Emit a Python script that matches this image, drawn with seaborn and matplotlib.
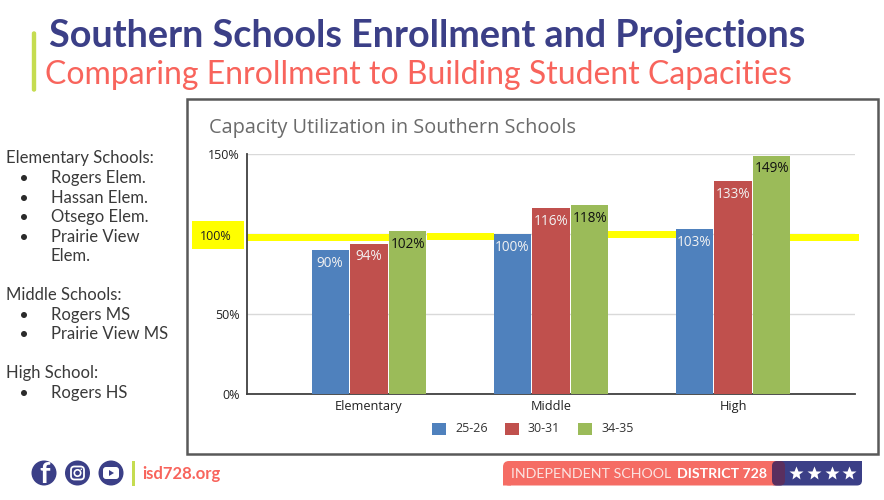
import matplotlib
matplotlib.use("Agg")
import matplotlib.pyplot as plt
from matplotlib.patches import Rectangle, FancyBboxPatch, Circle, Polygon
import pandas as pd
import seaborn as sns

school_levels = ["Elementary", "Middle", "High"]
years = ["25-26", "30-31", "34-35"]
util_2526 = [90, 100, 103]
util_3031 = [94, 116, 133]
util_3435 = [102, 118, 149]
year_colors = ["#4F81BD", "#C0504D", "#9BBB59"]
label_colors = ["#F2F2F2", "#F2F2F2", "#111111"]
y_ticks = [0, 50, 100, 150]
y_tick_labels = ["0%", "50%", "", "150%"]

school_list = [
    (158, "Elementary Schools:", False),
    (178, "Rogers Elem.", True),
    (198, "Hassan Elem.", True),
    (217, "Otsego Elem.", True),
    (237, "Prairie View", True),
    (256, "Elem.", None),
    (295, "Middle Schools:", False),
    (315, "Rogers MS", True),
    (334, "Prairie View MS", True),
    (373, "High School:", False),
    (393, "Rogers HS", True),
]

NAVY = "#3B3F87"
CORAL = "#F8645C"
LIME = "#C5DC50"
W, H = 884, 500

table = pd.DataFrame({
    "level": school_levels * 3,
    "year": [y for y in years for _ in school_levels],
    "util": util_2526 + util_3031 + util_3435,
})

sns.set_theme(style="white")
plt.rcParams["font.family"] = ["Open Sans", "DejaVu Sans"]

fig = plt.figure(figsize=(W / 100, H / 100), dpi=100, facecolor="white")

# Slide layer in pixel coordinates, behind the chart axes
page = fig.add_axes([0, 0, 1, 1], zorder=0)
page.set_xlim(0, W)
page.set_ylim(H, 0)
page.axis("off")

# Heading
page.add_patch(FancyBboxPatch((32.5, 32), 3, 59, boxstyle="round,pad=0,rounding_size=1.5",
                              fc=LIME, ec=LIME, lw=1))
page.text(49, 36, "Southern Schools Enrollment and Projections", family="Lato", weight="bold",
          fontsize=27.2, color=NAVY, va="center", ha="left")
page.text(45, 75, "Comparing Enrollment to Building Student Capacities", family="Lato",
          fontsize=23, color=CORAL, va="center", ha="left")

# School list on the left
for y, name, bullet in school_list:
    x = 6 if bullet is False else 51
    page.text(x, y, name, family="Lato", fontsize=12, color="#3A3A3A", va="center", ha="left")
    if bullet:
        page.add_patch(Circle((24, y), 3, fc="#2B2B2B", ec="none"))

# Chart frame
page.add_patch(Rectangle((187, 99), 691, 355, fc="white", ec="#595959", lw=1.8))
page.text(209, 127.5, "Capacity Utilization in Southern Schools", fontsize=14.3, color="#6B6B6B",
          va="center", ha="left")

# Chart axes
ax = fig.add_axes([247 / W, 1 - 394 / H, (855 - 247) / W, (394 - 154) / H], zorder=2)
ax.patch.set_alpha(0)
ax.set_axisbelow(True)
sns.barplot(data=table, x="level", y="util", hue="year", hue_order=years, order=school_levels,
            palette=year_colors, width=0.64, gap=0.045, saturation=1, linewidth=0, ax=ax, zorder=3)
ax.set_xlim(-0.67, 2.67)
ax.set_ylim(0, 150)
ax.set_yticks(y_ticks)
ax.set_yticklabels(y_tick_labels, fontsize=9, color="#222222")
ax.tick_params(axis="y", length=0, pad=5)
ax.tick_params(axis="x", length=0, labelsize=9.2, labelcolor="#222222", pad=4)
ax.set_xlabel("")
ax.set_ylabel("")
ax.grid(axis="y", color="#D9D9D9", lw=1)
for side in ("top", "right"):
    ax.spines[side].set_visible(False)
for side in ("left", "bottom"):
    ax.spines[side].set_color("#404040")
    ax.spines[side].set_linewidth(1.3)

for container, text_color in zip(ax.containers, label_colors):
    ax.bar_label(container, labels=[f"{v:.0f}%" for v in container.datavalues],
                 padding=-15, fontsize=9.8, color=text_color)

ax.legend_.remove()

# Pixel-based layer shared by the 100% marker and the footer
top = fig.add_axes([0, 0, 1, 1], zorder=3)
top.set_xlim(0, W)
top.set_ylim(H, 0)
top.axis("off")

# Yellow 100% marker: above the gridlines, behind each cluster of bars
for x0, x1, y0 in [(247, 391, 234), (427, 494, 233), (608, 676, 231), (790, 859, 233.5)]:
    ax.add_patch(Rectangle((x0, y0), x1 - x0, 7, fc="#FFFF00", ec="none",
                           transform=top.transData, clip_on=False, zorder=2))
page.add_patch(Rectangle((192, 221), 52, 28, fc="#FFFF00", ec="none"))
page.text(216, 236.5, "100%", fontsize=9, color="#222222", ha="center", va="center")

for x, year, color in zip([432, 505, 578], years, year_colors):
    top.add_patch(Rectangle((x, 423), 13.5, 12, fc=color, ec="none"))
    top.text(x + 23, 429, year, fontsize=9, color="#333333", va="center", ha="left")

# Social icons
for cx in (44, 77.5, 111):
    top.add_patch(Circle((cx, 473), 12.5, fc=NAVY, ec="none"))
top.text(45, 475, "f", family="Lato", weight="bold", fontsize=21, color="white", ha="center", va="center")
top.add_patch(FancyBboxPatch((71, 466.5), 13, 13, boxstyle="round,pad=0,rounding_size=3.5",
                             fc="none", ec="white", lw=1.3))
top.add_patch(Circle((77.5, 473), 3.2, fc="none", ec="white", lw=1.2))
top.add_patch(Circle((81.3, 469.3), 0.8, fc="white", ec="none"))
top.add_patch(FancyBboxPatch((103, 467), 16, 12, boxstyle="round,pad=0,rounding_size=3",
                             fc="white", ec="none"))
top.add_patch(Polygon([(109, 470), (109, 476), (114, 473)], closed=True, fc=NAVY, ec="none"))

top.add_patch(Rectangle((132, 461), 2.5, 25, fc=LIME, ec="none"))
top.text(142, 473.5, "isd728.org", family="Lato", weight="bold", fontsize=12, color=CORAL,
         va="center", ha="left")

# District banner: navy end, coral body and the darker overlap between them
top.add_patch(FancyBboxPatch((770, 461), 92, 24.5, boxstyle="round,pad=0,rounding_size=5",
                             fc=NAVY, ec="none"))
top.add_patch(Rectangle((770, 461), 92, 8, fc=NAVY, ec="none"))
top.add_patch(FancyBboxPatch((503, 461), 277, 24.5, boxstyle="round,pad=0,rounding_size=6",
                             fc="#F56C64", ec="none"))
top.add_patch(Rectangle((503, 473), 8, 12.5, fc="#F56C64", ec="none", snap=False))
top.add_patch(FancyBboxPatch((772, 461), 13, 24.5, boxstyle="round,pad=0,rounding_size=5",
                             fc="#5A2F5F", ec="none"))
top.text(511, 473.5, "INDEPENDENT SCHOOL", family="Lato", fontsize=10.3, color="#FBE3E1",
         va="center", ha="left")
top.text(677, 473.5, "DISTRICT 728", family="Lato", weight="bold", fontsize=10.2, color="white",
         va="center", ha="left")
for x in (796, 814, 832, 849):
    top.plot(x, 473, marker="*", ms=10.5, color="white", mec="none")

fig.savefig("out.png", dpi=100, facecolor="white")
